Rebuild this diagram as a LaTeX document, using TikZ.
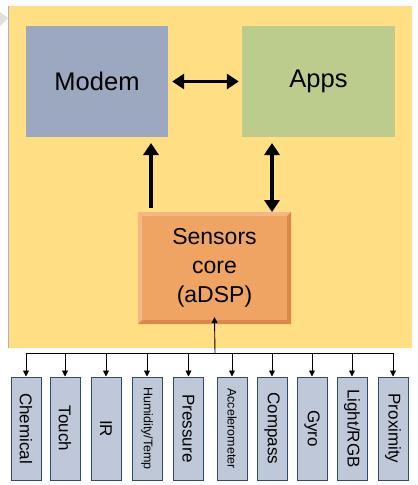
\documentclass[tikz,border=0pt]{standalone}
\usepackage{fontspec}
\setmainfont{Liberation Sans}
\usetikzlibrary{arrows.meta}
\definecolor{bgyellow}{HTML}{FFDE84}
\definecolor{modemc}{HTML}{9CA8C0}
\definecolor{appsc}{HTML}{BBCC8C}
\definecolor{corec}{HTML}{F0A463}
\definecolor{corelight}{HTML}{F5B884}
\definecolor{coredark}{HTML}{D98A4A}
\definecolor{sensfill}{HTML}{BFC8D8}
\definecolor{sensdraw}{HTML}{2E4A72}
\tikzset{
  bigbox/.style={minimum width=#1, minimum height=111pt, inner sep=0pt, font=\fontsize{25.5}{25.5}\selectfont},
  sensbox/.style={draw=sensdraw, line width=1pt, fill=sensfill, minimum width=103pt, minimum height=30pt, inner sep=0pt, rotate=-90, font=\fontsize{17}{17}\selectfont},
  smalltext/.style={font=\fontsize{12.5}{12.5}\selectfont},
  thick arrow/.style={line width=3.6pt, -{Triangle[length=12pt,width=15pt]}},
  thick darrow/.style={line width=3.6pt, {Triangle[length=12pt,width=15pt]}-{Triangle[length=12pt,width=15pt]}},
  thin arrow/.style={line width=0.9pt, -{Triangle[length=6pt,width=6pt]}}
}
\begin{document}
\begin{tikzpicture}[x=1pt,y=-1pt]
\useasboundingbox (0,0) rectangle (418,485);
% grey slide marker
\fill[gray!25] (0,12) -- (8,18) -- (0,26) -- cycle;
% yellow background
\fill[bgyellow] (8,6) rectangle (412,348);
\draw[gray!60, line width=0.6pt] (8.3,6) -- (8.3,348);
% top boxes
\node[bigbox=142pt, fill=modemc] (modem) at (97,81.5) {Modem};
\node[bigbox=153pt, fill=appsc] (apps) at (318.5,81.5) {Apps};
% sensors core with bevel
\fill[corelight] (138,212) rectangle (291,324);
\fill[coredark] (291,212) -- (291,324) -- (138,324) -- (142,320) -- (287,320) -- (287,216) -- cycle;
\node[minimum width=145pt, minimum height=104pt, inner sep=0pt, fill=corec, align=center, font=\fontsize{23}{29}\selectfont] (core) at (214.5,268) {Sensors\\core\\(aDSP)};
% arrows between top boxes and core
\draw[thick darrow] ([xshift=4pt]modem.east) -- ([xshift=-3pt]apps.west);
\coordinate (cl) at (151,208);
\coordinate (ml) at (151,143);
\draw[thick arrow] (cl) -- (ml);
\coordinate (cr) at (272,212);
\coordinate (ar) at (272,143);
\draw[thick darrow] (cr) -- (ar);
% sensors
\node[sensbox] (s1) at (26,428.5) {Chemical};
\node[sensbox] (s2) at (65,428.5) {Touch};
\node[sensbox] (s3) at (106,428.5) {IR};
\node[sensbox, smalltext] (s4) at (147,428.5) {Humidity/Temp};
\node[sensbox] (s5) at (188.5,428.5) {Pressure};
\node[sensbox, smalltext] (s6) at (232,428.5) {Accelerometer};
\node[sensbox] (s7) at (272,428.5) {Compass};
\node[sensbox] (s8) at (312,428.5) {Gyro};
\node[sensbox] (s9) at (352,428.5) {Light/RGB};
\node[sensbox] (s10) at (393,428.5) {Proximity};
% bus
\coordinate (busmid) at (215,353);
\draw[line width=0.9pt] (s1.west |- busmid) -- (s10.west |- busmid);
\draw[thin arrow] (busmid) -- ([yshift=3pt]core.south);
\foreach \i in {1,...,10} {
  \draw[thin arrow] (s\i.west |- busmid) -- (s\i.west);
}
\end{tikzpicture}
\end{document}
